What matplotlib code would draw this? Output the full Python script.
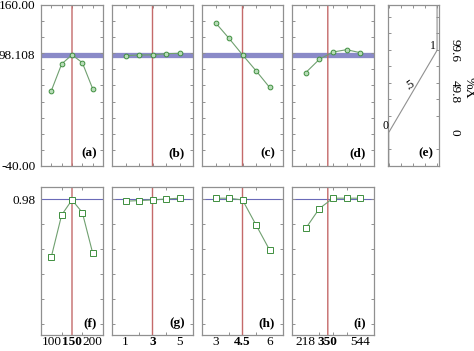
#----------Desirability profile panels----------
#Top row: predicted response vs each factor, bottom row: desirability

import matplotlib.pyplot as plt
import numpy as np

plt.rcParams['font.family'] = ['Liberation Serif', 'DejaVu Serif']

FontSize = 9.5
FrameColour = "#909090"
LineColour = "#70a070"
MarkerColour = "#3f8f3f"
RedColour = "#c46a6a"
BandColour = "#8a8ac8"

#---Data---
# factor levels for each panel
XA = [100, 125, 150, 175, 200]
XB = [1, 2, 3, 4, 5]
XC = [3, 3.75, 4.5, 5.25, 6]
XD = [218, 299.5, 381, 462.5, 544]

# chosen optimum for each factor
OptA, OptB, OptC, OptD = 150, 3, 4.5, 350

# predicted response (top row)
RespA = [53.5, 86.7, 98.1, 88.3, 56.0]
RespB = [97.0, 97.9, 98.1, 99.5, 100.0]
RespC = [138.0, 118.6, 98.1, 78.4, 57.8]
RespD = [75.9, 92.5, 101.6, 104.5, 100.7]
RespOpt = 98.108

# desirability (bottom row)
DesF = [0.9338, 0.9674, 0.9794, 0.9693, 0.9368]
DesG = [0.9784, 0.9789, 0.9794, 0.9802, 0.9808]
DesH = [0.9808, 0.9808, 0.9794, 0.9594, 0.9394]
DesI = [0.9565, 0.9725, 0.9808, 0.9808, 0.9808]
DesOpt = 0.98

# desirability function for the response (panel e)
EDes = [0, 0.5, 1]
EResp = [0, 49.8, 99.6]
ELabels = ["0", ".5", "1"]

XLims = [(75, 225), (0, 6), (2.25, 6.75), (136.5, 625.5)]
XTickLabels = [["100", "150", "200"], ["1", "3", "5"], ["3", "4.5", "6"], ["218", "350", "544"]]
XTickVals = [[100, 150, 200], [1, 3, 5], [3, 4.5, 6], [218, 350, 544]]
BoldIdx = [1, 1, 1, 1]
TopLetters = ["(a)", "(b)", "(c)", "(d)"]
BotLetters = ["(f)", "(g)", "(h)", "(i)"]
#----------------

W, H = 474, 351
fig = plt.figure(figsize=(W / 100, H / 100), dpi=100)

Cols = [(41, 103), (112, 193), (202, 283), (292, 374)]
TopRow = (5, 166)
BotRow = (187, 335)

def Box(x0, x1, y0, y1):
    return [x0 / W, 1 - y1 / H, (x1 - x0) / W, (y1 - y0) / H]

def StyleFrame(ax):
    for s in ax.spines.values():
        s.set_color(FrameColour)
        s.set_linewidth(0.9)
    ax.tick_params(which='both', direction='in', top=True, right=True,
                   color=FrameColour, length=2.5, width=0.7, labelsize=FontSize, pad=2)

Xs = [XA, XB, XC, XD]
Resps = [RespA, RespB, RespC, RespD]
Dess = [DesF, DesG, DesH, DesI]
Opts = [OptA, OptB, OptC, OptD]

for i in range(4):
    # top row
    ax = fig.add_axes(Box(Cols[i][0], Cols[i][1], *TopRow))
    StyleFrame(ax)
    ax.set_xlim(XLims[i])
    ax.set_ylim(-40, 160)
    ax.axhline(RespOpt, color=BandColour, lw=3.8, zorder=1)
    ax.axvline(Opts[i], color=RedColour, lw=1.0, zorder=2, snap=False)
    ax.plot(Xs[i], Resps[i], color=LineColour, lw=0.8, marker='o', ms=3.4,
            mfc="#b8dcb8", mec=MarkerColour, mew=0.7, zorder=3)
    ax.set_xticks(Xs[i])
    ax.set_xticklabels([])
    ax.set_yticks(np.arange(-40, 161, 20), minor=True)
    if i == 0:
        ax.set_yticks([-40, RespOpt, 160])
        ax.set_yticklabels(["-40.00", "98.108", "160.00"])
        ax.tick_params(axis='y', which='major', length=0, pad=4)
    else:
        ax.set_yticks([])
    ax.text(0.9, 0.04, TopLetters[i], transform=ax.transAxes, ha='right', va='bottom',
            fontsize=FontSize, fontweight='bold')

    # bottom row
    ax = fig.add_axes(Box(Cols[i][0], Cols[i][1], *BotRow))
    StyleFrame(ax)
    ax.set_xlim(XLims[i])
    ax.set_ylim(0.871, 0.9898)
    ax.axhline(DesOpt, color="#6a6ab8", lw=0.8, zorder=1)
    ax.axvline(Opts[i], color=RedColour, lw=1.0, zorder=2, snap=False)
    ax.plot(Xs[i], Dess[i], color=LineColour, lw=0.8, marker='s', ms=3.8,
            mfc="white", mec=MarkerColour, mew=0.7, zorder=3)
    ax.set_xticks(Xs[i], minor=True)
    ax.set_xticks(XTickVals[i])
    ax.set_xticklabels(XTickLabels[i])
    ax.tick_params(axis='x', which='major', length=0, pad=1)
    ax.get_xticklabels()[BoldIdx[i]].set_fontweight('bold')
    ax.set_yticks(np.arange(0.88, 0.99, 0.02), minor=True)
    if i == 0:
        ax.set_yticks([DesOpt])
        ax.set_yticklabels(["0.98"])
        ax.tick_params(axis='y', which='major', length=0, pad=4)
    else:
        ax.set_yticks([])
    ax.text(0.9, 0.04, BotLetters[i], transform=ax.transAxes, ha='right', va='bottom',
            fontsize=FontSize, fontweight='bold')

# panel (e): desirability function of the response
ax = fig.add_axes(Box(388, 439, *TopRow))
StyleFrame(ax)
ax.set_xlim(-0.015, 1.04)
ax.set_ylim(-40.6, 154.5)
YLo, YHi = ax.get_ylim()
ax.plot([EDes[0]] + EDes + [EDes[-1]], [YLo] + EResp + [YHi], color="#909090", lw=0.8)
ax.text(EDes[0] - 0.005, EResp[0] + 1, ELabels[0], ha='right', va='bottom', fontsize=FontSize - 1)
ax.text(EDes[1] - 0.06, EResp[1] - 1, ELabels[1], ha='center', va='bottom', fontsize=FontSize - 1, rotation=35)
ax.text(EDes[2] - 0.02, EResp[2] - 2, ELabels[2], ha='right', va='bottom', fontsize=FontSize - 1)
ax.set_xticks(np.linspace(0, 1, 5), minor=True)
ax.set_xticks([])
ax.set_yticks(np.arange(-40, 155, 20), minor=True)
ax.set_yticks(EResp)
ax.set_yticklabels(["0", "49.8", "99.6"], rotation=270, va='center', ha='left')
ax.yaxis.tick_right()
ax.tick_params(axis='y', which='both', left=True, right=True)
ax.tick_params(axis='y', which='major', length=0, pad=7)
ax.text(469 / W, 1 - 88 / H, "%X", transform=fig.transFigure, rotation=270,
        ha='center', va='center', fontsize=FontSize + 0.5)
ax.text(0.88, 0.04, "(e)", transform=ax.transAxes, ha='right', va='bottom',
        fontsize=FontSize, fontweight='bold')

plt.savefig("out.png", dpi=100)
